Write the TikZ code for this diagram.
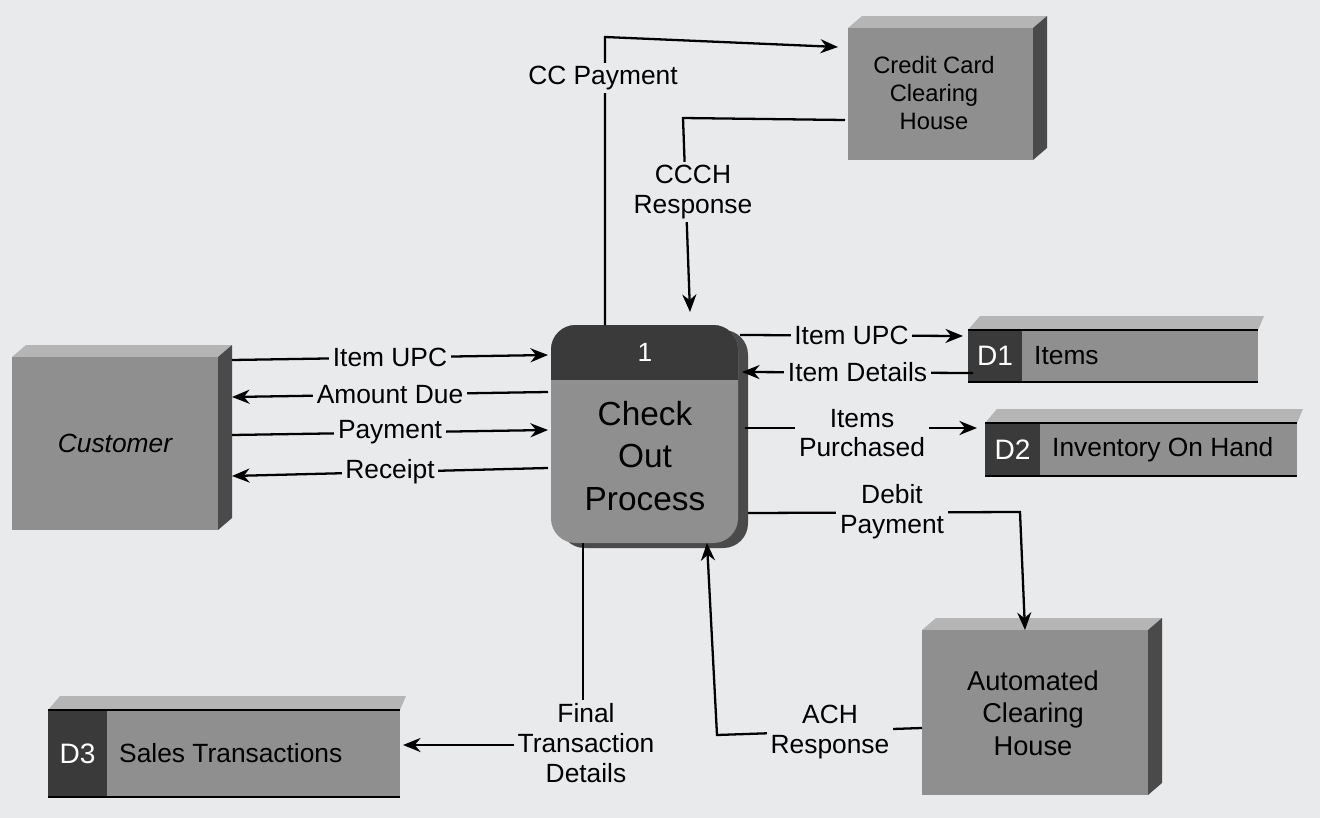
\documentclass[tikz,border=0pt]{standalone}
\usepackage{fontspec}
\setmainfont{Liberation Sans}
\usetikzlibrary{arrows.meta}
\definecolor{bg}{HTML}{E9EAEC}
\definecolor{face}{HTML}{8F8F8F}
\definecolor{side}{HTML}{4A4A4A}
\definecolor{topc}{HTML}{B5B5B5}
\definecolor{dark}{HTML}{3A3A3A}
\begin{document}
\begin{tikzpicture}[x=0.02cm,y=-0.02cm,
  lbl/.style={fill=bg,inner sep=2pt,font=\fontsize{15pt}{17pt}\selectfont,align=center},
  flow/.style={line width=1.3pt,-{Stealth[length=10pt,width=8pt]}},
  txt/.style={font=\fontsize{15pt}{17pt}\selectfont,align=center}]
\fill[bg] (0,0) rectangle (1320,818);
\useasboundingbox (0,0) rectangle (1320,818);
\newcommand{\ebox}[5]{%
  \fill[topc] (#1,#2) -- (#1+14,#2-12) -- (#3+14,#2-12) -- (#3,#2) -- cycle;
  \fill[side] (#3,#2) -- (#3+14,#2-12) -- (#3+14,#4-12) -- (#3,#4) -- cycle;
  \fill[face] (#1,#2) rectangle (#3,#4);
  \node[txt] (#5) at ({(#1+#3)/2},{(#2+#4)/2}) {};}
\ebox{12}{357}{218}{530}{cust}
\node[txt,font=\fontsize{15pt}{17pt}\itshape] at (115,443) {Customer};
\ebox{848}{28}{1033}{160}{cc}
\node[txt,font=\fontsize{13.5pt}{16pt}\selectfont] at (934,93) {Credit Card\\Clearing\\House};
\ebox{922}{630}{1148}{795}{ach}
\node[txt,font=\fontsize{15.5pt}{18.5pt}\selectfont] at (1033,713) {Automated\\Clearing\\House};
\newcommand{\dstore}[7]{%
  \fill[topc] (#1,#2) -- (#1+12,#2-14) -- (#3+6,#2-14) -- (#3,#2) -- cycle;
  \fill[face] (#1,#2) rectangle (#3,#4);
  \fill[dark] (#1,#2) rectangle (#5,#4);
  \draw[line width=1.5pt,black] (#1,#2) -- (#3,#2) (#1,#4) -- (#3,#4);
  \node[txt,white,font=\fontsize{16pt}{18pt}\selectfont] at ({(#1+#5)/2},{(#2+#4)/2}) {#6};
  \node[txt,anchor=west] at (#5+6,{(#2+#4)/2}) {#7};}
\dstore{968}{330}{1258}{382}{1022}{D1}{Items}
\dstore{985}{423}{1297}{476}{1040}{D2}{Inventory On Hand}
\dstore{48}{710}{400}{797}{107}{D3}{Sales Transactions}
\fill[side,rounded corners=14pt] (560,330) rectangle (748,548);
\fill[face,rounded corners=14pt] (551,325) rectangle (738,543);
\begin{scope}
\clip[rounded corners=14pt] (551,325) rectangle (738,543);
\fill[dark] (551,325) rectangle (738,380);
\end{scope}
\node[txt,white] at (645,352) {1};
\node[txt,font=\fontsize{19pt}{24pt}\selectfont] (p) at (645,456) {Check\\Out\\Process};
\draw[flow] (232,360) -- node[lbl]{Item UPC} (548,355);
\draw[flow] (548,392) -- node[lbl]{Amount Due} (232,397);
\draw[flow] (232,435) -- node[lbl]{Payment} (548,430);
\draw[flow] (548,468) -- node[lbl]{Receipt} (232,476);
\draw[flow] (605,325) -- (605,37) -- (838,47);
\node[lbl] at (603,78) {CC Payment};
\draw[flow] (845,120) -- (683,118) -- (690,312);
\node[lbl] at (693,192) {CCCH\\Response};
\draw[flow] (740,335) -- node[lbl]{Item UPC} (963,336);
\draw[flow] (973,373) -- node[lbl]{Item Details} (742,372);
\draw[flow] (745,428) -- (977,428);
\node[lbl] at (862,433) {Items\\Purchased};
\draw[flow] (748,513) -- (1020,512) -- (1025,630);
\node[lbl] at (892,512) {Debit\\Payment};
\draw[flow] (922,728) -- (717,735) -- (707,543);
\node[lbl] at (830,732) {ACH\\Response};
\draw[flow] (583,543) -- (583,745) -- (403,745);
\node[lbl] at (586,743) {Final\\Transaction\\Details};
\end{tikzpicture}
\end{document}
